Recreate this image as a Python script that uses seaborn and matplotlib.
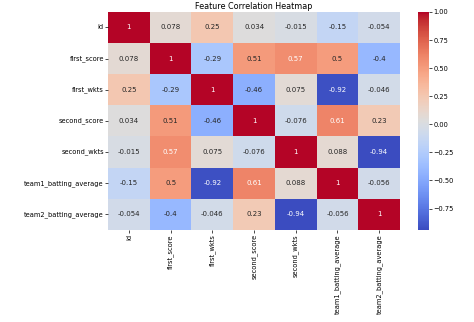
import numpy as np
import seaborn as sns
import matplotlib.pyplot as plt
import pandas as pd

features = ['id', 'first_score', 'first_wkts', 'second_score', 'second_wkts',
            'team1_batting_average', 'team2_batting_average']

row_id = [1, 0.078, 0.25, 0.034, -0.015, -0.15, -0.054]
row_first_score = [0.078, 1, -0.29, 0.51, 0.57, 0.5, -0.4]
row_first_wkts = [0.25, -0.29, 1, -0.46, 0.075, -0.92, -0.046]
row_second_score = [0.034, 0.51, -0.46, 1, -0.076, 0.61, 0.23]
row_second_wkts = [-0.015, 0.57, 0.075, -0.076, 1, 0.088, -0.94]
row_team1_avg = [-0.15, 0.5, -0.92, 0.61, 0.088, 1, -0.056]
row_team2_avg = [-0.054, -0.4, -0.046, 0.23, -0.94, -0.056, 1]

corr = pd.DataFrame([row_id, row_first_score, row_first_wkts, row_second_score,
                     row_second_wkts, row_team1_avg, row_team2_avg],
                    index=features, columns=features)

fig = plt.figure(figsize=(4.74, 3.22), dpi=100)
ax = fig.add_axes([0.228, 0.286, 0.616, 0.677])
cax = fig.add_axes([0.882, 0.286, 0.024, 0.677])

sns.heatmap(corr, annot=True, cmap='coolwarm', ax=ax, cbar_ax=cax,
            annot_kws={'fontsize': 5})

ax.set_title('Feature Correlation Heatmap', fontsize=5.8, pad=2)
ax.tick_params(labelsize=4.8, length=2, width=0.5, pad=1)
cax.tick_params(labelsize=4.8, length=2, width=0.5, pad=1)

plt.savefig('out.png', dpi=100)
